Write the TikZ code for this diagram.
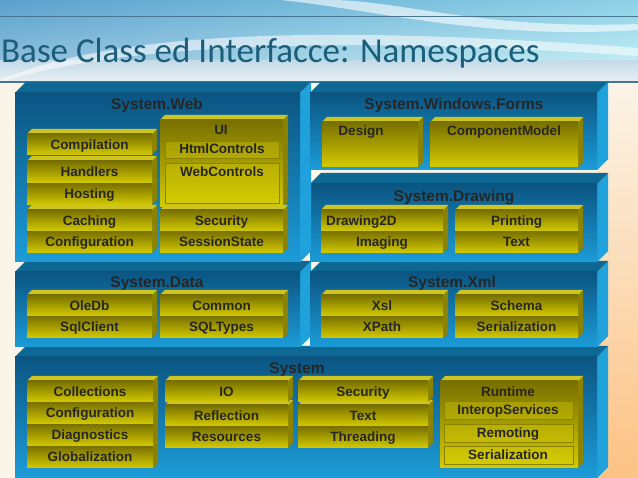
\documentclass[tikz,border=0pt]{standalone}
\usepackage{fontspec}
\setmainfont{Liberation Sans}
\newfontfamily\titlefont{Carlito}

\definecolor{nsdark}{HTML}{0B5582}
\definecolor{nslight}{HTML}{1C9CD8}
\definecolor{nstop}{HTML}{0E6894}
\definecolor{nsside}{HTML}{1FA2DC}
\definecolor{ylwdark}{HTML}{787000}
\definecolor{ylwmid}{HTML}{E2D80C}
\definecolor{ylwlow}{HTML}{D4CA00}
\definecolor{ylwside}{HTML}{8A8200}
\definecolor{ylwtop}{HTML}{CFC520}
\definecolor{titleblue}{HTML}{1B5E79}
\definecolor{cream}{HTML}{FBF4E8}
\definecolor{peach}{HTML}{FCC283}
\definecolor{bnrtop}{HTML}{5AA2CE}
\definecolor{bnrlow}{HTML}{E9EFF3}
\definecolor{bnrline}{HTML}{4A7590}

\tikzset{
  nslabel/.style={font=\fontsize{15.5}{16}\selectfont\bfseries, text=black!85, inner sep=0pt, anchor=base},
  itemlabel/.style={font=\fontsize{13.5}{14}\selectfont\bfseries, text=black!85, inner sep=0pt, anchor=base},
  innerbox/.style={draw=ylwside, line width=0.6pt, fill=ylwmid, fill opacity=0.3},
}

% blue namespace block, front face x1,y1,x2,y2
\newcommand{\nspanel}[4]{%
  \fill [nsside] (#3,#2) -- (#3+11,#2-11) -- (#3+11,#4-11) -- (#3,#4) -- cycle;
  \fill [nstop] (#1,#2) -- (#1+11,#2-11) -- (#3+11,#2-11) -- (#3,#2) -- cycle;
  \shade [top color=nsdark, bottom color=nslight] (#1,#2) rectangle (#3,#4);
}
% yellow slab, front face x1,y1,x2,y2
\newcommand{\ylwslab}[4]{%
  \fill [ylwside] (#3,#2) -- (#3+5,#2-5) -- (#3+5,#4-5) -- (#3,#4) -- cycle;
  \fill [ylwtop] (#1,#2) -- (#1+5,#2-5) -- (#3+5,#2-5) -- (#3,#2) -- cycle;
  \shade [top color=ylwdark, middle color=ylwmid, bottom color=ylwlow] (#1,#2) rectangle (#3,#4);
}
% slab with its name centred
\newcommand{\ylwitem}[6]{%
  \ylwslab{#1}{#2}{#3}{#4}
  \node [itemlabel] (#5) at ({(#1+#3)/2},{(#2+#4)/2+5}) {#6};
}

\begin{document}
\begin{tikzpicture}[x=1pt,y=-1pt]
\useasboundingbox (0,0) rectangle (638,478);
% background
\fill [cream] (0,0) rectangle (638,478);
\shade [top color=cream, bottom color=peach] (597,82) rectangle (638,478);
\shade [top color=bnrtop, bottom color=bnrlow] (0,0) rectangle (638,82);
\shade [left color=bnrtop, right color=cyan!25, opacity=0.5] (0,0) rectangle (638,60);
\fill [white, opacity=0.55] (0,80) .. controls (120,30) and (330,25) .. (638,48) -- (638,56) .. controls (330,35) and (120,45) .. (0,82) -- cycle;
\fill [white, opacity=0.6] (280,0) .. controls (380,10) and (480,40) .. (638,30) -- (638,24) .. controls (480,30) and (400,0) .. (330,0) -- cycle;
\draw [bnrline, line width=1pt] (0,17) -- (638,17);
\draw [bnrline, line width=1.2pt] (0,82) -- (638,82);
\node [font=\titlefont\fontsize{35}{38}\selectfont, text=titleblue, anchor=base west, inner sep=0pt] (title) at (1,63) {Base Class ed Interfacce: Namespaces};

% namespace blocks, lower ones first
\nspanel{15}{357}{597}{478}
\nspanel{15}{272}{300}{347}
\nspanel{310}{272}{597}{347}
\nspanel{310}{184}{597}{262}
\nspanel{15}{93}{300}{262}
\nspanel{310}{93}{597}{170}

% System.Web
\node [nslabel] (web) at (157,109.5) {System.Web};
\ylwitem{27}{134}{152}{155}{compilation}{Compilation}
\ylwitem{27}{183}{152}{205}{hosting}{Hosting}
\ylwitem{27}{161}{152}{183}{handlers}{Handlers}
\ylwitem{27}{231}{152}{253}{webconfig}{Configuration}
\ylwitem{27}{210}{152}{231}{caching}{Caching}
\ylwslab{160}{120}{283}{207}
\node [itemlabel] (ui) at (221,135) {UI};
\draw [innerbox] (165,141) rectangle (279,158);
\node [itemlabel] (htmlctl) at (222,154) {HtmlControls};
\draw [innerbox] (165,163) rectangle (279,203);
\node [itemlabel] (webctl) at (222,177) {WebControls};
\ylwitem{160}{231}{283}{253}{sessionstate}{SessionState}
\ylwitem{160}{210}{283}{231}{websecurity}{Security}

% System.Windows.Forms
\node [nslabel] (forms) at (454,109.5) {System.Windows.Forms};
\ylwslab{322}{122}{418}{167}
\node [itemlabel] (design) at (361,136) {Design};
\ylwslab{430}{122}{578}{167}
\node [itemlabel] (compmodel) at (504,136) {ComponentModel};

% System.Drawing
\node [nslabel] (drawing) at (454,201.5) {System.Drawing};
\ylwitem{321}{231}{443}{253}{imaging}{Imaging}
\ylwslab{321}{210}{443}{231}
\node [itemlabel, anchor=base west] (drawing2d) at (326,225.5) {Drawing2D};
\ylwitem{455}{231}{578}{253}{drawtext}{Text}
\ylwitem{455}{210}{578}{231}{printing}{Printing}

% System.Data
\node [nslabel] (data) at (157,287.5) {System.Data};
\ylwitem{27}{316}{152}{338}{sqlclient}{SqlClient}
\ylwitem{27}{295}{152}{316}{oledb}{OleDb}
\ylwitem{160}{316}{283}{338}{sqltypes}{SQLTypes}
\ylwitem{160}{295}{283}{316}{common}{Common}

% System.Xml
\node [nslabel] (xml) at (452,287.5) {System.Xml};
\ylwitem{321}{316}{443}{338}{xpath}{XPath}
\ylwitem{321}{295}{443}{316}{xsl}{Xsl}
\ylwitem{455}{316}{578}{338}{xmlserial}{Serialization}
\ylwitem{455}{295}{578}{316}{schema}{Schema}

% System
\node [nslabel] (system) at (297,373.5) {System};
\ylwitem{27}{446}{153}{468}{globalization}{Globalization}
\ylwitem{27}{424}{153}{446}{diagnostics}{Diagnostics}
\ylwitem{27}{402}{153}{424}{sysconfig}{Configuration}
\ylwitem{27}{381}{153}{402}{collections}{Collections}
\ylwitem{165}{426}{288}{448}{resources}{Resources}
\ylwitem{165}{405}{288}{426}{reflection}{Reflection}
\ylwitem{165}{381}{288}{402}{io}{IO}
\ylwitem{298}{426}{428}{448}{threading}{Threading}
\ylwitem{298}{405}{428}{426}{systext}{Text}
\ylwitem{298}{381}{428}{402}{syssecurity}{Security}
\ylwslab{440}{381}{578}{468}
\node [itemlabel] (runtime) at (508,397) {Runtime};
\draw [innerbox] (444,401) rectangle (573,419);
\node [itemlabel] (interop) at (508,415) {InteropServices};
\draw [innerbox] (444,424) rectangle (573,442);
\node [itemlabel] (remoting) at (508,438) {Remoting};
\draw [innerbox] (444,446) rectangle (573,464);
\node [itemlabel] (rtserial) at (508,460) {Serialization};
\end{tikzpicture}
\end{document}
